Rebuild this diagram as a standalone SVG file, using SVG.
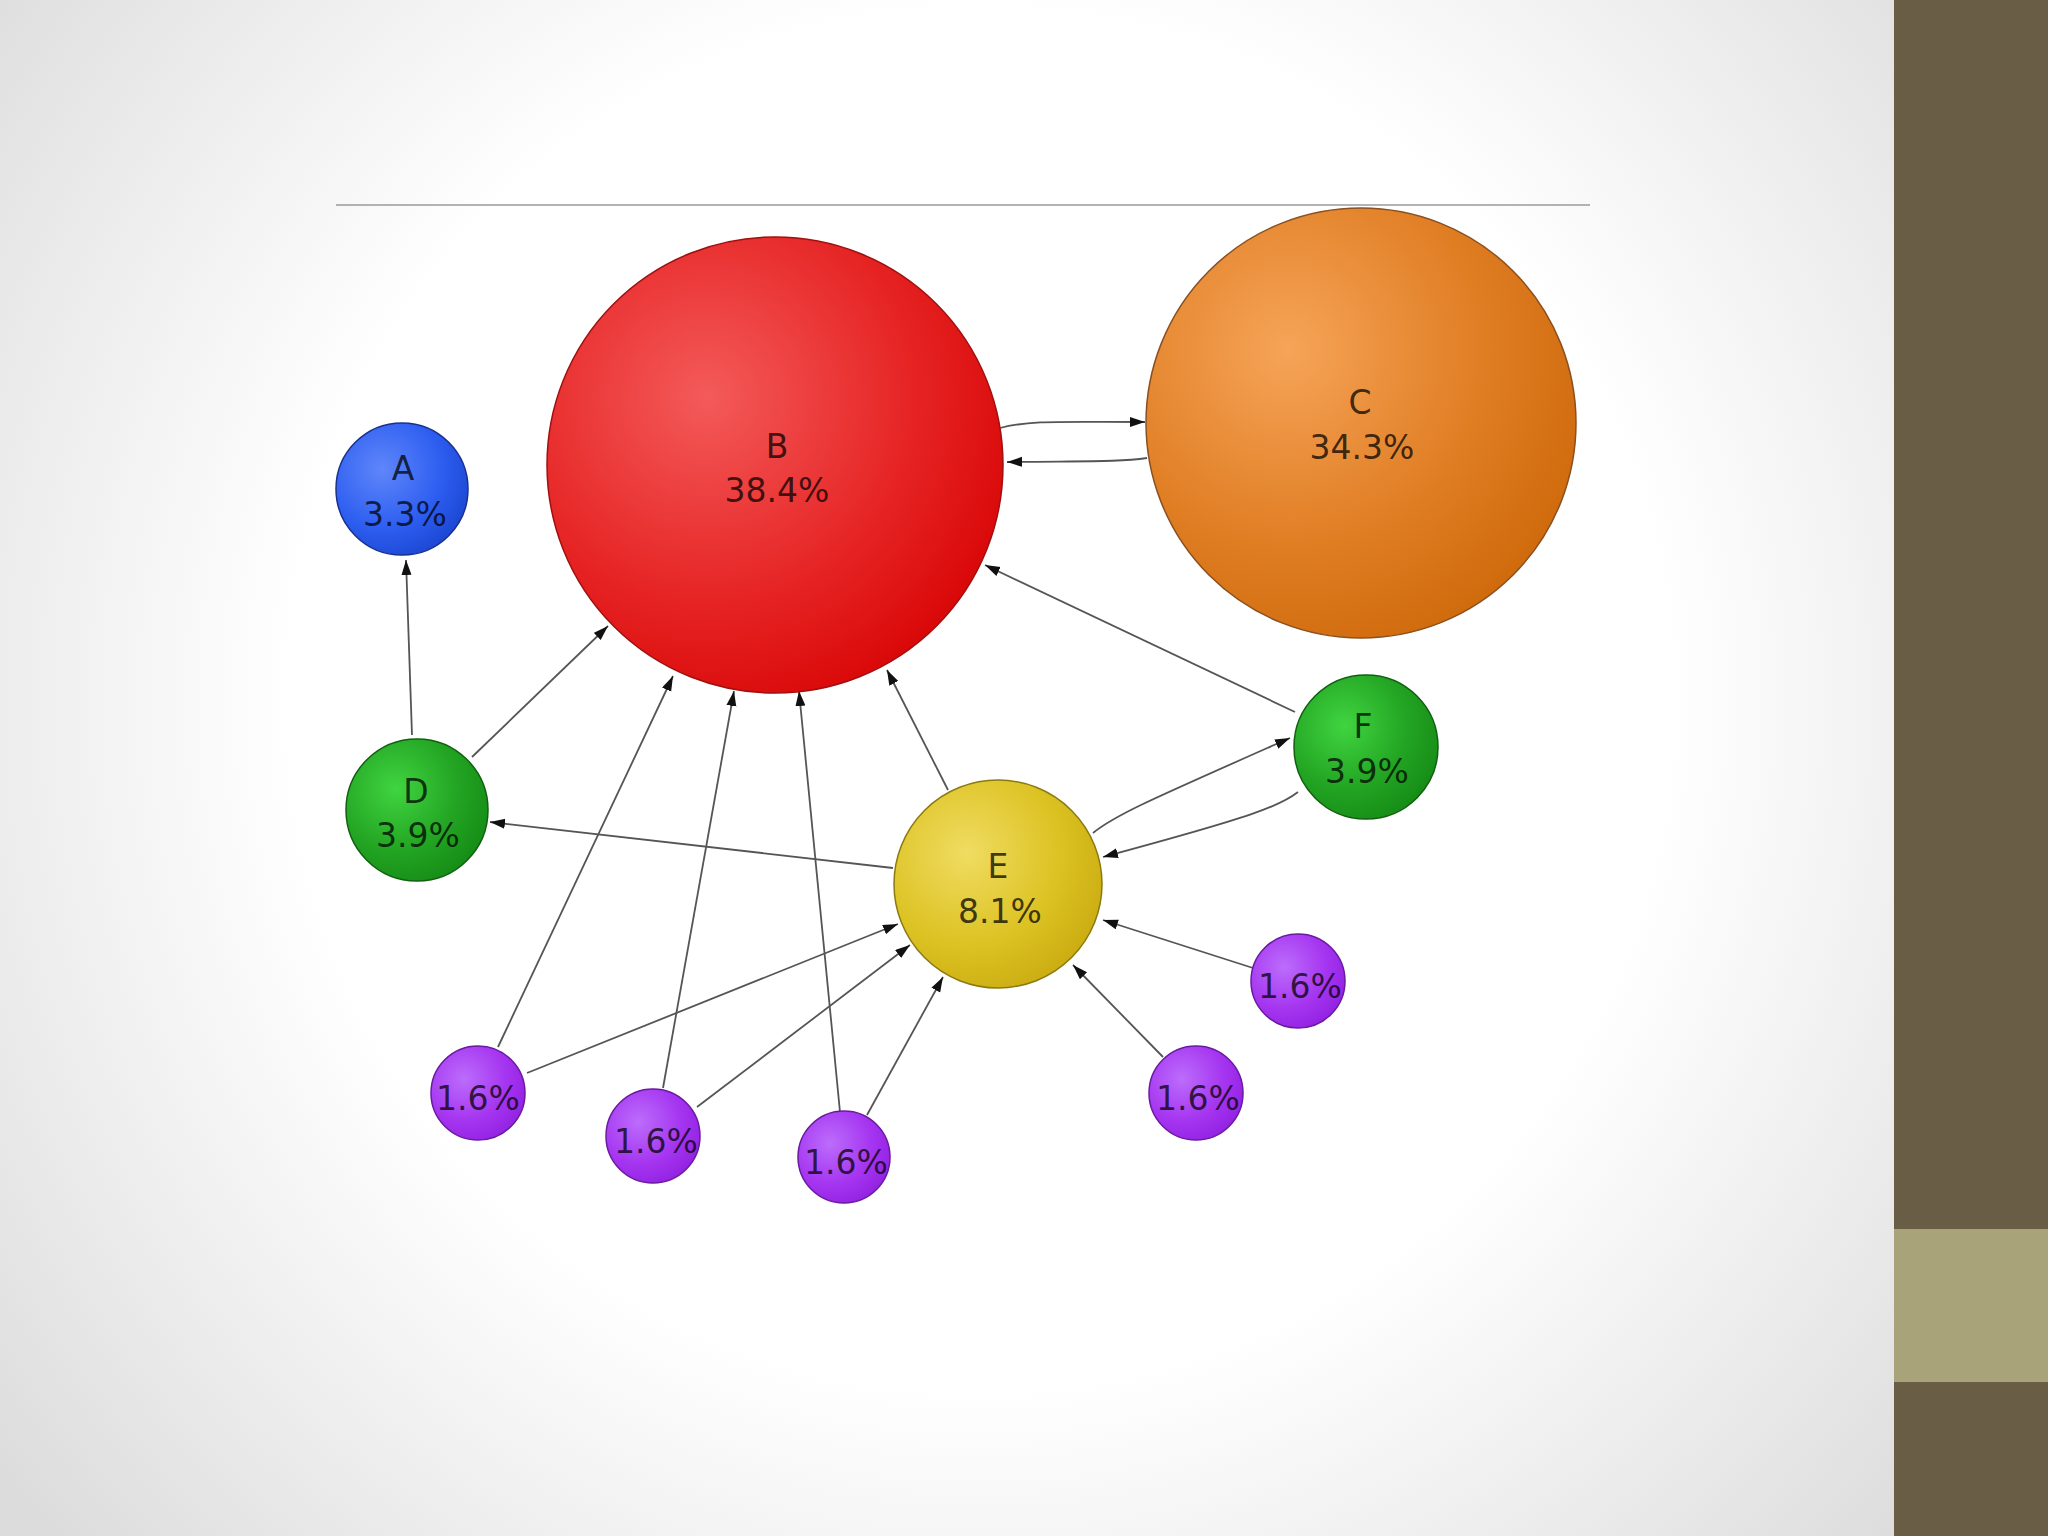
<svg xmlns="http://www.w3.org/2000/svg" width="2048" height="1536" viewBox="0 0 2048 1536">
<defs>
<radialGradient id="bg" cx="980" cy="700" r="1250" gradientUnits="userSpaceOnUse">
<stop offset="0.55" stop-color="#ffffff"/>
<stop offset="1" stop-color="#dcdcdc"/>
</radialGradient>
<radialGradient id="gB" cx="0.35" cy="0.35" r="0.75"><stop offset="0" stop-color="#f45a5a"/><stop offset="0.6" stop-color="#e62424"/><stop offset="1" stop-color="#d80404"/></radialGradient>
<radialGradient id="gC" cx="0.33" cy="0.33" r="0.75"><stop offset="0" stop-color="#f6a458"/><stop offset="0.6" stop-color="#e07e24"/><stop offset="1" stop-color="#cf6a0c"/></radialGradient>
<radialGradient id="gA" cx="0.35" cy="0.35" r="0.75"><stop offset="0" stop-color="#5f86fa"/><stop offset="0.6" stop-color="#2d5ef0"/><stop offset="1" stop-color="#1a44d0"/></radialGradient>
<radialGradient id="gG" cx="0.35" cy="0.35" r="0.75"><stop offset="0" stop-color="#40d440"/><stop offset="0.6" stop-color="#22a322"/><stop offset="1" stop-color="#148a14"/></radialGradient>
<radialGradient id="gE" cx="0.35" cy="0.35" r="0.75"><stop offset="0" stop-color="#f0dc62"/><stop offset="0.6" stop-color="#dcc222"/><stop offset="1" stop-color="#c9aa10"/></radialGradient>
<radialGradient id="gP" cx="0.35" cy="0.35" r="0.75"><stop offset="0" stop-color="#bc6cfc"/><stop offset="0.6" stop-color="#a535f0"/><stop offset="1" stop-color="#9020e0"/></radialGradient>
<marker id="ah" markerUnits="userSpaceOnUse" markerWidth="16" markerHeight="12" refX="15" refY="5" orient="auto">
<path d="M0,0 L15,5 L0,10 z" fill="#111"/>
</marker>
<style>
.edge{fill:none;stroke:#555;stroke-width:1.8;marker-end:url(#ah)}
.node circle{stroke-width:1.5}
.lbl{font-family:"DejaVu Sans","Liberation Sans",sans-serif;font-size:33px;text-anchor:middle;fill:#000;fill-opacity:0.74}
</style>
</defs>
<rect x="0" y="0" width="2048" height="1536" fill="url(#bg)"/>
<rect x="1894" y="0" width="154" height="1536" fill="#6a5d45"/>
<rect x="1894" y="1229" width="154" height="153" fill="#a9a37a"/>
<line x1="336" y1="205" x2="1590" y2="205" stroke="#9a9a9a" stroke-width="1.5"/>

<g id="connectors">
<path class="edge" d="M1000,428 C1030,420 1060,422 1145,422"/>
<path class="edge" d="M1147,458 C1120,462 1090,461 1007,462"/>
<path class="edge" d="M412,735 L406,560"/>
<path class="edge" d="M472,757 L608,626"/>
<path class="edge" d="M893,868 L490,822"/>
<path class="edge" d="M948,790 L887,670"/>
<path class="edge" d="M1295,712 L985,565"/>
<path class="edge" d="M1093,833 C1115,815 1150,800 1290,738"/>
<path class="edge" d="M1298,792 C1280,806 1255,816 1103,857"/>
<path class="edge" d="M1253,968 L1103,920"/>
<path class="edge" d="M1163,1057 L1073,965"/>
<path class="edge" d="M498,1047 L673,676"/>
<path class="edge" d="M527,1073 L898,924"/>
<path class="edge" d="M663,1088 L734,691"/>
<path class="edge" d="M697,1107 L910,945"/>
<path class="edge" d="M840,1112 L799,691"/>
<path class="edge" d="M867,1115 L943,977"/>
</g>

<g id="node-B" class="node"><circle cx="775" cy="465" r="228" fill="url(#gB)" stroke="#a01010"/>
<text class="lbl" x="777" y="458">B</text><text class="lbl" x="777" y="502">38.4%</text></g>
<g id="node-C" class="node"><circle cx="1361" cy="423" r="215" fill="url(#gC)" stroke="#8a5020"/>
<text class="lbl" x="1360" y="414">C</text><text class="lbl" x="1362" y="459">34.3%</text></g>
<g id="node-A" class="node"><circle cx="402" cy="489" r="66" fill="url(#gA)" stroke="#1a3090"/>
<text class="lbl" x="403" y="480">A</text><text class="lbl" x="405" y="526">3.3%</text></g>
<g id="node-D" class="node"><circle cx="417" cy="810" r="71" fill="url(#gG)" stroke="#106010"/>
<text class="lbl" x="416" y="803">D</text><text class="lbl" x="418" y="847">3.9%</text></g>
<g id="node-E" class="node"><circle cx="998" cy="884" r="104" fill="url(#gE)" stroke="#8a7a10"/>
<text class="lbl" x="998" y="878">E</text><text class="lbl" x="1000" y="923">8.1%</text></g>
<g id="node-F" class="node"><circle cx="1366" cy="747" r="72" fill="url(#gG)" stroke="#106010"/>
<text class="lbl" x="1363" y="738">F</text><text class="lbl" x="1367" y="783">3.9%</text></g>
<g id="node-P1" class="node"><circle cx="478" cy="1093" r="47" fill="url(#gP)" stroke="#6a1aa0"/>
<text class="lbl" x="478" y="1110">1.6%</text></g>
<g id="node-P2" class="node"><circle cx="653" cy="1136" r="47" fill="url(#gP)" stroke="#6a1aa0"/>
<text class="lbl" x="656" y="1153">1.6%</text></g>
<g id="node-P3" class="node"><circle cx="844" cy="1157" r="46" fill="url(#gP)" stroke="#6a1aa0"/>
<text class="lbl" x="846" y="1174">1.6%</text></g>
<g id="node-P4" class="node"><circle cx="1196" cy="1093" r="47" fill="url(#gP)" stroke="#6a1aa0"/>
<text class="lbl" x="1198" y="1110">1.6%</text></g>
<g id="node-P5" class="node"><circle cx="1298" cy="981" r="47" fill="url(#gP)" stroke="#6a1aa0"/>
<text class="lbl" x="1300" y="998">1.6%</text></g>
</svg>
